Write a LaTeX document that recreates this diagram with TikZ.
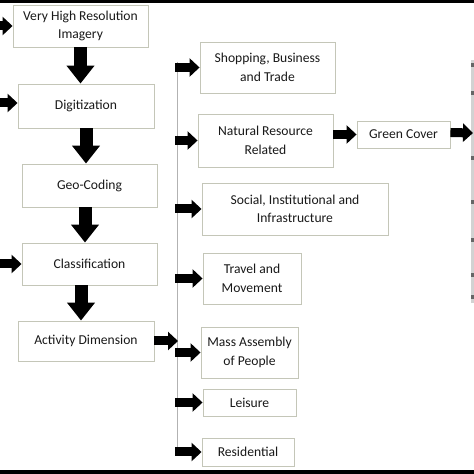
\documentclass[tikz,border=0pt]{standalone}
\usepackage{fontspec}
\setmainfont{Carlito}
\usetikzlibrary{arrows.meta}
\definecolor{boxline}{RGB}{196,198,184}
\definecolor{txt}{RGB}{25,25,25}
\begin{document}
\begin{tikzpicture}[x=1pt,y=1pt,
  box/.style={draw=boxline,line width=0.9pt,fill=white,text=txt,align=center,
     inner sep=0pt,font=\fontsize{13.6}{18.5}\selectfont},
  varrow/.style={line width=13pt,-{Triangle[width=27pt,length=18pt]}},
  harrow/.style={line width=9pt,-{Triangle[width=18pt,length=10pt]}},
]
\useasboundingbox (0,0) rectangle (474,474);
\fill[white] (0,0) rectangle (474,474);
% frame bars
\fill[black] (0,471) rectangle (474,474);
\fill[black] (0,0) rectangle (474,4);
% left chain
\node[box,minimum width=135pt,minimum height=42pt] (b1) at (80.5,448) {Very High Resolution\\Imagery};
\node[box,minimum width=136pt,minimum height=44pt] (b2) at (86,368) {Digitization};
\node[box,minimum width=135pt,minimum height=43pt] (b3) at (89.5,288.5) {Geo-Coding};
\node[box,minimum width=135pt,minimum height=42pt] (b4) at (89.5,210) {Classification};
\node[box,minimum width=136pt,minimum height=40pt] (b5) at (86,133) {Activity Dimension};
% right column
\node[box,minimum width=135pt,minimum height=51pt] (r1) at (267.5,406.5) {Shopping, Business\\and Trade};
\node[box,minimum width=135pt,minimum height=53pt] (r2) at (265.5,333.5) {Natural Resource\\Related};
\node[box,minimum width=93pt,minimum height=27pt] (gc) at (403.5,339.5) {Green Cover};
\node[box,minimum width=186pt,minimum height=52pt] (r3) at (295,265) {Social, Institutional and\\Infrastructure};
\node[box,minimum width=98pt,minimum height=51pt] (r4) at (252,195.5) {Travel and\\Movement};
\node[box,minimum width=97pt,minimum height=51pt] (r5) at (249.5,121.5) {Mass Assembly\\of People};
\node[box,minimum width=93pt,minimum height=27pt] (r6) at (249.5,71.5) {Leisure};
\node[box,minimum width=92pt,minimum height=28pt] (r7) at (248,22) {Residential};
% helper coordinates
\coordinate (vl) at (175,0);
\coordinate (vlt) at (177,412);
\coordinate (vlb) at (177,24);
\coordinate (le) at (0,0);
\coordinate (re) at (473,339);
% vertical gray line
\draw[gray!60,line width=0.9pt] (vlt) -- (vlb);
% right edge
\fill[gray!35] (471,171) rectangle (474,414);
\foreach \yy in {409,381,316,272,234,199,177}{\fill[gray!80!black] (471,\yy-2) rectangle (474,\yy+2);}
% vertical arrows
\draw[varrow] (b1.south -| 80.5,0) -- (80.5,0 |- b2.north);
\draw[varrow] (86,0 |- b2.south) -- (86,0 |- b3.north);
\draw[varrow] (85,0 |- b3.south) -- (85,0 |- b4.north);
\draw[varrow] (81,0 |- b4.south) -- (81,0 |- b5.north);
% left entry arrows
\draw[harrow] (b1.west -| le) -- (b1.west);
\draw[harrow] ([yshift=3pt]b2.west -| le) -- ([yshift=3pt]b2.west);
\draw[harrow] (b4.west -| le) -- (b4.west);
% activity to line
\draw[harrow] (b5.east) -- (b5.east -| 178,0);
% branch arrows
\foreach \n in {r1,r2,r3,r4,r5,r6,r7}{\draw[harrow] (\n.west -| vl) -- (\n.west);}
\draw[harrow] (r2.east |- gc.west) -- (gc.west);
\draw[harrow] ([yshift=2pt]gc.east) -- ([yshift=2pt]re);
\end{tikzpicture}
\end{document}
